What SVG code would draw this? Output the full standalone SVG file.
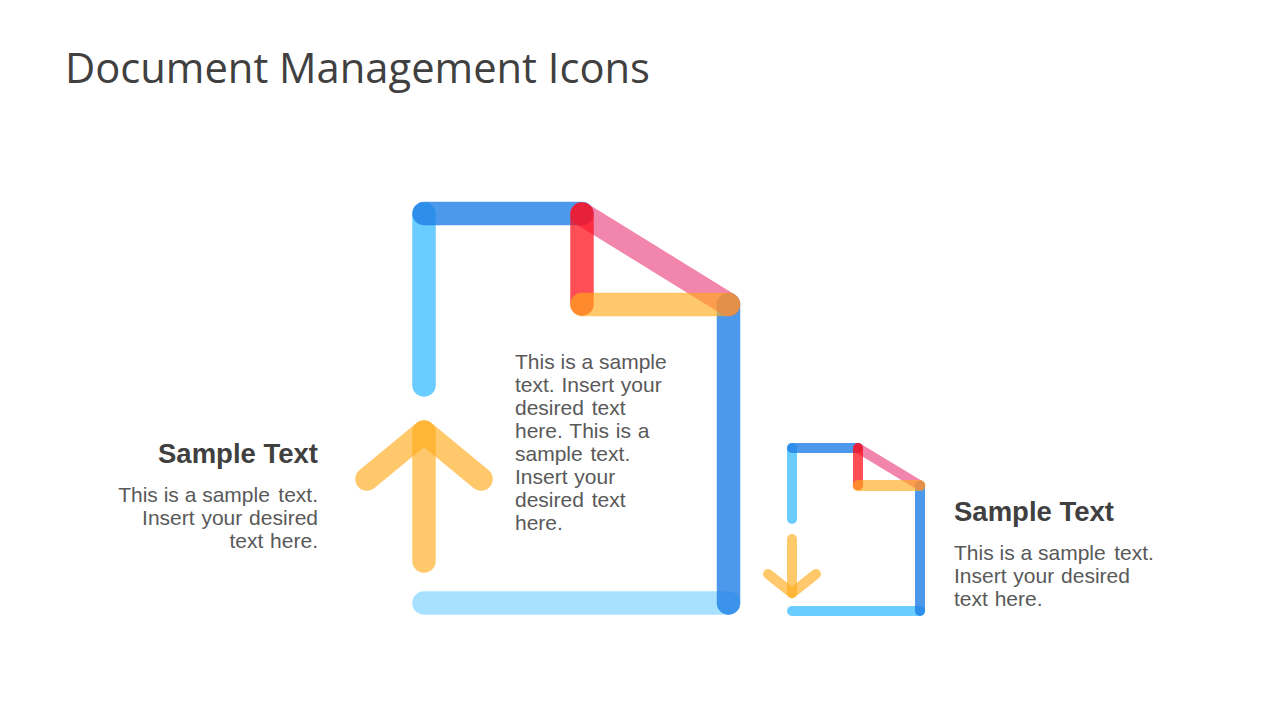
<svg xmlns="http://www.w3.org/2000/svg" width="1280" height="720" viewBox="0 0 1280 720">
<style>
.t{font-family:"Open Sans","Noto Sans",sans-serif;font-size:41.700px;fill:#404040}
.h{font-family:"Liberation Sans",Arial,sans-serif;font-size:27.500px;font-weight:bold;fill:#404040}
.b{font-family:"Liberation Sans",Arial,sans-serif;font-size:21px;fill:#595959}
.w1{word-spacing:1px}
.w2{word-spacing:2px}
.e{text-anchor:end}
.s{fill:none;stroke-linecap:round}
.big{stroke-width:23.500px}
.small{stroke-width:10px}
.blue{stroke:#1f7fe6;stroke-opacity:.8}
.sky{stroke:#1fb2ff;stroke-opacity:.66}
.pale{stroke:#1fb2ff;stroke-opacity:.39}
.pink{stroke:#ea3a78;stroke-opacity:.62}
.red{stroke:#ff0a14;stroke-opacity:.72}
.amber{stroke:#ffaa1a;stroke-opacity:.65}
</style>
<rect width="1280" height="720" fill="#fff"/>
<text class="t" x="65" y="83">Document Management Icons</text>
<g id="large-document">
<path class="s big sky" d="M424 214V385"/>
<path class="s big blue" d="M424 213.500H582"/>
<path class="s big pale" d="M424 603H728.500"/>
<path class="s big blue" d="M728.500 304.500V603"/>
<path class="s big pink" d="M582 214L728.500 304.500"/>
<path class="s big red" d="M582 214V304"/>
<path class="s big amber" d="M582 304.500H728.500"/>
</g>
<g id="upload-arrow">
<path class="s big amber" d="M424 432V561"/>
<path class="s big amber" d="M367 479L424 432L481 479" stroke-linejoin="round"/>
</g>
<g id="small-document">
<path class="s small sky" d="M792 448V519"/>
<path class="s small blue" d="M792 448H858"/>
<path class="s small sky" d="M792 611H920"/>
<path class="s small blue" d="M920 485.500V611"/>
<path class="s small pink" d="M858 448L920 485.500"/>
<path class="s small red" d="M858 448V485.500"/>
<path class="s small amber" d="M858 485.500H920" style="stroke-width:11px"/>
</g>
<g id="download-arrow">
<path class="s small amber" d="M792 539V593"/>
<path class="s small amber" d="M768 574L792 593L816 574" stroke-linejoin="round"/>
</g>
<g id="left-text">
<text class="h e" x="318" y="463">Sample Text</text>
<text class="b e" x="318" y="502">This is a sample <tspan dx="2.600">text.</tspan></text>
<text class="b e w1" x="318" y="525">Insert your desired</text>
<text class="b e w1" x="318" y="548">text here.</text>
</g>
<g id="center-text">
<text class="b" x="515" y="369">This is a sample</text>
<text class="b w1" x="515" y="392">text. Insert your</text>
<text class="b w2" x="515" y="415">desired text</text>
<text class="b w1" x="515" y="438">here. This is a</text>
<text class="b w2" x="515" y="461">sample text.</text>
<text class="b w1" x="515" y="484">Insert your</text>
<text class="b w2" x="515" y="507">desired text</text>
<text class="b" x="515" y="530">here.</text>
</g>
<g id="right-text">
<text class="h" x="954" y="521">Sample Text</text>
<text class="b" x="954" y="560">This is a sample <tspan dx="2.600">text.</tspan></text>
<text class="b w1" x="954" y="583">Insert your desired</text>
<text class="b w1" x="954" y="606">text here.</text>
</g>
</svg>
